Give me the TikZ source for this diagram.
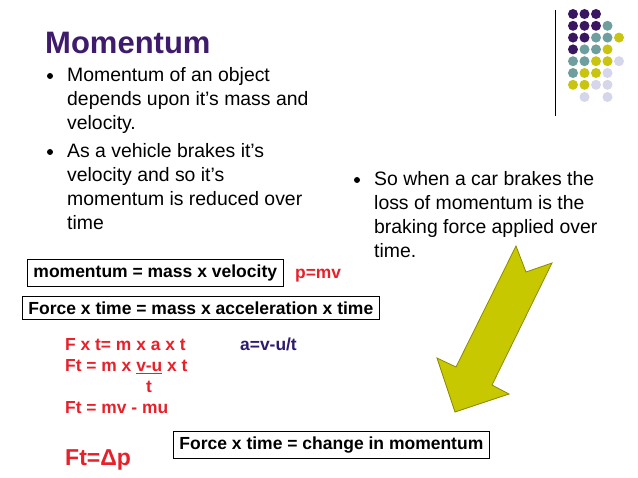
\documentclass[tikz,border=0pt]{standalone}
\usepackage{fontspec}
\setmainfont{Liberation Sans}
\definecolor{ttl}{HTML}{3F1B6B}
\definecolor{dp}{HTML}{3A1560}
\definecolor{dt}{HTML}{6E9E9E}
\definecolor{dy}{HTML}{C8C410}
\definecolor{dl}{HTML}{D6D6EA}
\definecolor{rd}{HTML}{E8202A}
\definecolor{av}{HTML}{2E1A6E}
\definecolor{arr}{HTML}{C8C800}
\definecolor{arrl}{HTML}{8C8A00}
\begin{document}
\begin{tikzpicture}[x=1pt,y=-1pt,
  txt/.style={anchor=base west,inner sep=0pt,font=\fontsize{19.4}{24}\selectfont},
  bul/.style={circle,fill=black,inner sep=0pt,minimum size=6pt},
  eqbox/.style={draw,line width=0.9pt,anchor=west,inner xsep=6pt,inner ysep=5pt,font=\fontsize{17.5}{20}\selectfont\bfseries},
  red/.style={anchor=base west,inner sep=0pt,text=rd,font=\fontsize{17.4}{20}\selectfont\bfseries},
  dot/.style={circle,inner sep=0pt,minimum size=10pt}]
\useasboundingbox (0,0) rectangle (638,478);
\fill[white] (0,0) rectangle (638,478);
% decoration
\draw[line width=0.8pt] (555,10) -- (555,116);
\foreach \r/\row in {0/{dp,dp,dp},1/{dp,dp,dp,dt},2/{dp,dp,dt,dt,dy},3/{dp,dt,dt,dy},4/{dt,dt,dy,dy,dl},5/{dt,dy,dy,dl},6/{dy,dy,dl,dl}}{
  \foreach \c [count=\i from 0] in \row {
    \node[dot,fill=\c] (d\r\i) at ({573+11.5*\i},{14+11.8*\r}) {};
  }
}
\node[dot,fill=dl] (d71) at (584.5,97) {};
\node[dot,fill=dl] (d73) at (607.5,97) {};
% title
\node[anchor=base west,inner sep=0pt,text=ttl,font=\fontsize{31}{34}\selectfont\bfseries] (title) at (45,54) {Momentum};
% left bullets
\node[bul] (b1) at (50,76) {};
\node[txt] (t1a) at (67,82) {Momentum of an object};
\node[txt] (t1b) at (67,106) {depends upon it’s mass and};
\node[txt] (t1c) at (67,130) {velocity.};
\node[bul] (b2) at (50,152) {};
\node[txt] (t2a) at (67,158) {As a vehicle brakes it’s};
\node[txt] (t2b) at (67,182) {velocity and so it’s};
\node[txt] (t2c) at (67,206) {momentum is reduced over};
\node[txt] (t2d) at (67,230) {time};
% right bullet
\node[bul] (b3) at (357,180) {};
\node[txt] (t3a) at (374,186) {So when a car brakes the};
\node[txt] (t3b) at (374,210) {loss of momentum is the};
\node[txt] (t3c) at (374,234) {braking force applied over};
\node[txt] (t3d) at (374,258) {time.};
% arrow
\filldraw[fill=arr,draw=arrl,line width=0.8pt] (516,246) -- (526,272) -- (552,263) -- (492,385) -- (509,394) -- (455,412) -- (437,358) -- (456,367) -- cycle;
% boxes
\node[eqbox] (bx1) at (27,273) {momentum = mass x velocity};
\node[red] (pmv) at (295,279) {p=mv};
\node[eqbox] (bx2) at (22,308) {Force x time = mass x acceleration x time};
\node[red] (e1) at (65,351) {F x t= m x a x t};
\node[anchor=base west,inner sep=0pt,text=av,font=\fontsize{17.4}{20}\selectfont\bfseries] (e2) at (240,351) {a=v-u/t};
\node[red] (e3) at (65,372) {Ft = m x \underline{v-u} x t};
\node[red] (e4) at (146,393) {t};
\node[red] (e5) at (65,414) {Ft = mv - mu};
\node[anchor=base west,inner sep=0pt,text=rd,font=\fontsize{23}{26}\selectfont\bfseries] (e6) at (65,466) {Ft=Δp};
\node[eqbox] (bx3) at (173,445) {Force x time = change in momentum};
\end{tikzpicture}
\end{document}
